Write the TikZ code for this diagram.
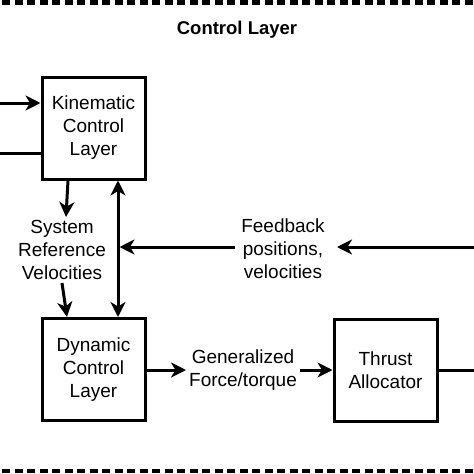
\documentclass[tikz,border=0pt]{standalone}
\usepackage{fontspec}
\setmainfont{Liberation Sans}
\usetikzlibrary{arrows.meta}
\begin{document}
\begin{tikzpicture}[x=1pt,y=-1pt,
  lw/.style={line width=3pt},
  arr/.style={lw,-{Stealth[length=15pt,width=15pt,inset=4.5pt]}},
  darr/.style={lw,{Stealth[length=15pt,width=15pt,inset=4.5pt]}-{Stealth[length=15pt,width=15pt,inset=4.5pt]}},
  blockbox/.style={draw,lw,minimum width=103pt,minimum height=102pt,align=center,inner sep=0pt,
    font=\fontsize{19}{23}\selectfont},
  lbl/.style={align=center,inner sep=0pt,font=\fontsize{19}{23}\selectfont},
  sep/.style={line width=4.5pt,dash pattern=on 8pt off 4.5pt}]
\useasboundingbox (0,0) rectangle (474,474);
\fill[white] (0,0) rectangle (474,474);
% separators
\coordinate (t1) at (2,2.5); \coordinate (t2) at (474,2.5);
\coordinate (b1) at (2,471); \coordinate (b2) at (474,471);
\draw[sep] (t1) -- (t2);
\draw[sep] (b1) -- (b2);
% title
\node[font=\bfseries\fontsize{18.5}{22}\selectfont] (title) at (237,29.5) {Control Layer};
% blocks
\node[blockbox] (kin) at (93.5,128) {Kinematic\\Control\\Layer};
\node[blockbox] (dyn) at (93.5,369.5) {Dynamic\\Control\\Layer};
\node[blockbox] (thr) at (385.5,370) {Thrust\\Allocator};
% labels
\node[lbl] (srv) at (62,250) {System\\Reference\\Velocities};
\node[lbl] (fb) at (283,249) {Feedback\\positions,\\velocities};
\node[lbl] (gf) at (243,370) {Generalized\\Force/torque};
% inputs on the left
\coordinate (in1) at (0,103);
\coordinate (in2) at (0,153);
\draw[arr] (in1) -- (in1 -| kin.west);
\draw[lw] (in2) -- (in2 -| kin.west);
% kinematic -> system reference velocities -> dynamic
\coordinate (sa) at (66,217);
\coordinate (sb) at (62,283);
\draw[arr] ([xshift=-25.5pt]kin.south) -- (sa);
\draw[arr] (sb) -- ([xshift=-26.5pt]dyn.north);
% double arrow between kinematic and dynamic
\draw[darr] ([xshift=24.5pt]kin.south) -- ([xshift=24.5pt]dyn.north);
% feedback
\coordinate (fbR) at (474,247);
\coordinate (fbT) at (337,247);
\coordinate (fbL) at (235,247);
\coordinate (fbE) at (119.5,247);
\draw[arr] (fbR) -- (fbT);
\draw[arr] (fbL) -- (fbE);
% dynamic -> generalized force -> thrust
\coordinate (g1) at (186,370);
\coordinate (g2) at (300,370);
\coordinate (out) at (474,370);
\draw[arr] (dyn.east |- g1) -- (g1);
\draw[arr] (g2) -- (thr.west |- g2);
\draw[lw] (thr.east |- out) -- (out);
\end{tikzpicture}
\end{document}
